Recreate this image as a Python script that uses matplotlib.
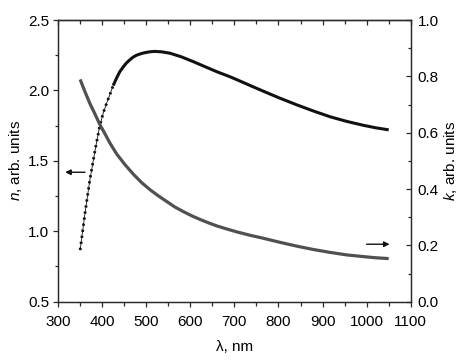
import numpy as np
import matplotlib
matplotlib.use('Agg')
import matplotlib.pyplot as plt
from matplotlib.ticker import MultipleLocator

plt.rcParams['font.family'] = ['Liberation Sans', 'DejaVu Sans']
plt.rcParams['mathtext.fontset'] = 'custom'
plt.rcParams['mathtext.rm'] = 'Liberation Sans'
plt.rcParams['mathtext.it'] = 'Liberation Sans:italic'

# refractive index n (left axis)
n_wl = [350, 361, 372, 384, 395, 403, 410, 418, 425, 433, 440, 448, 455, 463,
        470, 478, 490, 500, 510, 520, 535, 554, 580, 607, 633, 660, 690, 713,
        740, 766, 800, 842, 880, 917, 955, 993, 1020, 1050]
n_val = [0.867, 1.128, 1.364, 1.578, 1.755, 1.845, 1.909, 1.975, 2.035, 2.09,
         2.133, 2.168, 2.195, 2.218, 2.236, 2.25, 2.263, 2.27, 2.275, 2.277,
         2.274, 2.264, 2.238, 2.204, 2.169, 2.133, 2.097, 2.066, 2.029, 1.994,
         1.949, 1.897, 1.853, 1.813, 1.780, 1.752, 1.735, 1.72]

# extinction coefficient k (right axis)
k_wl = [350, 361, 372, 384, 395, 407, 418, 433, 452, 471, 490, 509, 528, 547,
        565, 584, 603, 622, 641, 660, 683, 705, 735, 766, 804, 842, 880, 917,
        955, 993, 1020, 1050]
k_val = [0.789, 0.745, 0.704, 0.665, 0.628, 0.594, 0.562, 0.524, 0.486, 0.452,
         0.422, 0.397, 0.375, 0.355, 0.336, 0.320, 0.305, 0.292, 0.280, 0.269,
         0.258, 0.248, 0.236, 0.225, 0.2105, 0.197, 0.185, 0.175, 0.166, 0.160,
         0.156, 0.153]

spine_c = '#2a2a2a'
fs = 11

fig = plt.figure(figsize=(4.74, 3.63), dpi=100)
ax = fig.add_axes([0.1226, 0.1689, 0.8665 - 0.1226, 0.9449 - 0.1689])
ax2 = ax.twinx()

# n curve: sparse dotted where steep, solid afterwards
cut = 9
ax.plot(n_wl[:cut], n_val[:cut], color='#111111', lw=0.6)
ax.plot(n_wl[:cut], n_val[:cut], color='#111111', lw=2.0, ls=(0, (0.8, 1.4)))
ax.plot(n_wl[cut - 1:], n_val[cut - 1:], color='#111111', lw=2.2,
        solid_capstyle='butt', solid_joinstyle='round')

ax2.plot(k_wl, k_val, color='#505050', lw=2.3, solid_capstyle='butt',
         solid_joinstyle='round')

ax.set_xlim(300, 1100)
ax.set_ylim(0.5, 2.5)
ax2.set_ylim(0.0, 1.0)

ax.xaxis.set_major_locator(MultipleLocator(100))
ax.xaxis.set_minor_locator(MultipleLocator(50))
ax.yaxis.set_major_locator(MultipleLocator(0.5))
ax.yaxis.set_minor_locator(MultipleLocator(0.25))
ax2.yaxis.set_major_locator(MultipleLocator(0.2))
ax2.yaxis.set_minor_locator(MultipleLocator(0.1))
ax.yaxis.set_major_formatter('{x:.1f}')
ax2.yaxis.set_major_formatter('{x:.1f}')

ax.tick_params(which='both', direction='out', top=False, right=False,
               color=spine_c, width=0.9, labelsize=fs, pad=3)
ax.tick_params(axis='x', which='both', pad=6)
ax.tick_params(which='major', length=3.5)
ax.tick_params(which='minor', length=2.0)
ax.tick_params(axis='x', which='minor', length=2.6)
ax2.tick_params(which='both', direction='in', color=spine_c, width=0.9,
                labelsize=fs, pad=5)
ax2.tick_params(which='major', length=3.5)
ax2.tick_params(which='minor', length=2.0)

top = ax.secondary_xaxis('top')
top.xaxis.set_major_locator(MultipleLocator(100))
top.xaxis.set_minor_locator(MultipleLocator(50))
top.tick_params(which='both', direction='in', labeltop=False, color=spine_c,
                width=0.9)
top.tick_params(which='major', length=3.5)
top.tick_params(which='minor', length=2.6)

for a in (ax, ax2, top):
    for s in a.spines.values():
        s.set_color(spine_c)
        s.set_linewidth(0.9)

ax.set_xlabel('λ, nm', fontsize=fs, labelpad=8)
ax.set_ylabel(r'$\it{n}$, arb. units', fontsize=fs, labelpad=3)
ax2.set_ylabel(r'$\it{k}$, arb. units', fontsize=fs, rotation=90, labelpad=2)

arrow = dict(arrowstyle='-|>', color='#111111', lw=1.0,
             mutation_scale=8, shrinkA=0, shrinkB=0)
ax.annotate('', xy=(316, 1.419), xytext=(361, 1.419), arrowprops=arrow)
ax2.annotate('', xy=(1052, 0.204), xytext=(1000, 0.204), arrowprops=arrow)

fig.savefig('out.png', dpi=100)
